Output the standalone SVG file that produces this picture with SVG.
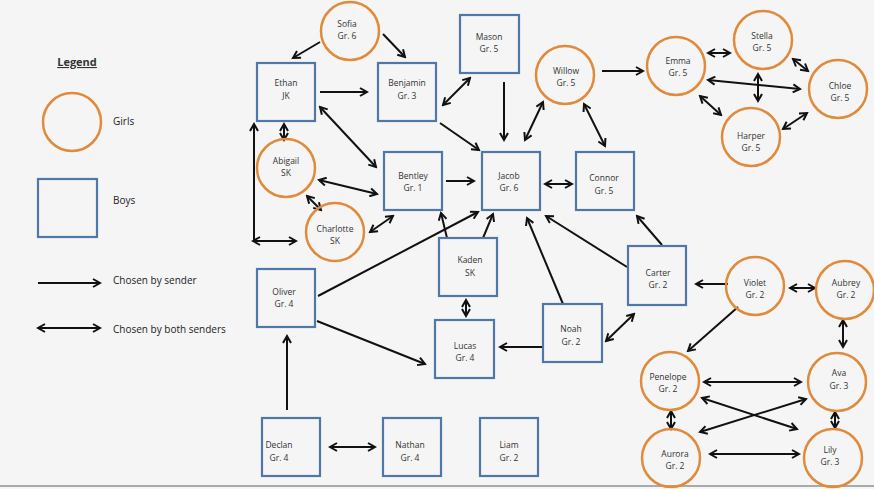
<svg xmlns="http://www.w3.org/2000/svg" width="874" height="489" viewBox="0 0 874 489">
<style>
.b{fill:none;stroke:#4f78a8;stroke-width:2.2}
.g{fill:none;stroke:#e08a3c;stroke-width:2.5}
text{font-family:"Open Sans","Liberation Sans",sans-serif;font-size:8.5px;fill:#333;text-anchor:middle}
.lg{font-size:10px;text-anchor:start;fill:#222}
#edges line,#edges path{stroke:#111;stroke-width:2;fill:none}
.s{marker-end:url(#ah)}
.d{marker-end:url(#ah);marker-start:url(#as)}
</style>
<defs>
<marker id="ah" markerWidth="10" markerHeight="10" refX="8" refY="5" orient="auto" markerUnits="userSpaceOnUse"><path d="M1,1 L8,5 L1,9" fill="none" stroke="#111" stroke-width="2"/></marker>
<marker id="as" markerWidth="10" markerHeight="10" refX="2" refY="5" orient="auto" markerUnits="userSpaceOnUse"><path d="M9,1 L2,5 L9,9" fill="none" stroke="#111" stroke-width="2"/></marker>
</defs>
<rect width="874" height="489" fill="#f5f5f5"/>
<line x1="0" y1="486" x2="874" y2="486" stroke="#aaa" stroke-width="2"/>
<g id="legend">
<text x="77" y="66" style="font-size:11px;font-weight:bold;text-decoration:underline">Legend</text>
<circle cx="72" cy="122" r="29" class="g"/>
<text class="lg" x="113" y="125">Girls</text>
<rect x="38" y="179" width="59" height="58" class="b"/>
<text class="lg" x="113" y="204">Boys</text>
<text class="lg" x="113" y="284">Chosen by sender</text>
<text class="lg" x="113" y="333">Chosen by both senders</text>
</g>
<g id="edges">
<line class="s" x1="38" y1="283" x2="100" y2="283"/>
<line class="d" x1="38" y1="328" x2="100" y2="328"/>
<line class="s" x1="320" y1="42" x2="293" y2="58"/>
<line class="s" x1="383" y1="34" x2="405" y2="57"/>
<line class="s" x1="320" y1="92" x2="367" y2="92"/>
<line class="d" x1="470" y1="78" x2="443" y2="105"/>
<line class="s" x1="440" y1="123" x2="479" y2="150"/>
<line class="s" x1="504" y1="82" x2="504" y2="140"/>
<line class="d" x1="320" y1="107" x2="376" y2="167"/>
<line class="d" x1="284" y1="124" x2="284" y2="140"/>
<line class="d" x1="319" y1="180" x2="377" y2="194"/>
<line class="d" x1="307" y1="196" x2="321" y2="210"/>
<line class="d" x1="370" y1="232" x2="393" y2="216"/>
<line class="s" x1="446" y1="181" x2="474" y2="181"/>
<line class="s" x1="254" y1="241" x2="254" y2="124"/>
<line class="d" x1="253" y1="241" x2="296" y2="241"/>
<line class="s" x1="318" y1="296" x2="478" y2="212"/>
<line class="s" x1="447" y1="238" x2="441" y2="213"/>
<line class="s" x1="483" y1="238" x2="493" y2="214"/>
<line class="d" x1="466" y1="300" x2="466" y2="316"/>
<line class="s" x1="317" y1="321" x2="425" y2="364"/>
<line class="s" x1="544" y1="347" x2="500" y2="347"/>
<line class="s" x1="563" y1="304" x2="527" y2="218"/>
<line class="s" x1="627" y1="267" x2="546" y2="216"/>
<line class="s" x1="662" y1="245" x2="637" y2="216"/>
<line class="d" x1="606" y1="341" x2="634" y2="314"/>
<line class="s" x1="287" y1="410" x2="287" y2="336"/>
<line class="d" x1="330" y1="447" x2="375" y2="447"/>
<line class="d" x1="525" y1="140" x2="543" y2="102"/>
<line class="d" x1="584" y1="104" x2="605" y2="146"/>
<line class="d" x1="545" y1="184" x2="572" y2="184"/>
<line class="s" x1="602" y1="71" x2="643" y2="71"/>
<line class="d" x1="708" y1="53" x2="730" y2="53"/>
<line class="d" x1="708" y1="80" x2="800" y2="89"/>
<line class="d" x1="758" y1="74" x2="758" y2="101"/>
<line class="d" x1="793" y1="59" x2="808" y2="71"/>
<line class="d" x1="700" y1="96" x2="721" y2="115"/>
<line class="d" x1="783" y1="129" x2="807" y2="113"/>
<line class="s" x1="728" y1="284" x2="696" y2="284"/>
<line class="d" x1="790" y1="288" x2="815" y2="288"/>
<line class="d" x1="843" y1="320" x2="843" y2="347"/>
<line class="s" x1="738" y1="307" x2="688" y2="351"/>
<line class="d" x1="704" y1="382" x2="801" y2="382"/>
<line class="d" x1="702" y1="398" x2="797" y2="429"/>
<line class="d" x1="700" y1="432" x2="806" y2="399"/>
<line class="d" x1="671" y1="411" x2="671" y2="429"/>
<line class="d" x1="835" y1="412" x2="835" y2="428"/>
<line class="d" x1="710" y1="454" x2="799" y2="454"/>
</g>
<g id="ethan"><rect x="257" y="63" width="58" height="58" class="b"/><text x="286" y="86">Ethan</text><text x="286" y="99">JK</text></g>
<g id="benjamin"><rect x="378" y="63" width="58" height="58" class="b"/><text x="407" y="86">Benjamin</text><text x="407" y="99">Gr. 3</text></g>
<g id="mason"><rect x="460" y="15" width="59" height="58" class="b"/><text x="489" y="40">Mason</text><text x="489" y="52">Gr. 5</text></g>
<g id="bentley"><rect x="384" y="152" width="58" height="58" class="b"/><text x="413" y="179">Bentley</text><text x="413" y="191">Gr. 1</text></g>
<g id="jacob"><rect x="482" y="152" width="58" height="58" class="b"/><text x="509" y="179">Jacob</text><text x="509" y="191">Gr. 6</text></g>
<g id="connor"><rect x="576" y="152" width="58" height="58" class="b"/><text x="604" y="181">Connor</text><text x="604" y="194">Gr. 5</text></g>
<g id="kaden"><rect x="439" y="238" width="58" height="58" class="b"/><text x="470" y="263">Kaden</text><text x="470" y="276">SK</text></g>
<g id="oliver"><rect x="257" y="269" width="58" height="58" class="b"/><text x="284" y="295">Oliver</text><text x="284" y="307">Gr. 4</text></g>
<g id="lucas"><rect x="435" y="320" width="59" height="58" class="b"/><text x="465" y="349">Lucas</text><text x="465" y="361">Gr. 4</text></g>
<g id="noah"><rect x="543" y="304" width="59" height="58" class="b"/><text x="571" y="332">Noah</text><text x="571" y="345">Gr. 2</text></g>
<g id="carter"><rect x="628" y="246" width="58" height="59" class="b"/><text x="658" y="276">Carter</text><text x="658" y="288">Gr. 2</text></g>
<g id="declan"><rect x="262" y="418" width="58" height="58" class="b"/><text x="279" y="448">Declan</text><text x="279" y="461">Gr. 4</text></g>
<g id="nathan"><rect x="383" y="418" width="58" height="58" class="b"/><text x="410" y="448">Nathan</text><text x="410" y="461">Gr. 4</text></g>
<g id="liam"><rect x="480" y="418" width="58" height="58" class="b"/><text x="509" y="448">Liam</text><text x="509" y="461">Gr. 2</text></g>
<g id="sofia"><circle cx="350" cy="31" r="29" class="g"/><text x="347" y="27">Sofia</text><text x="347" y="39">Gr. 6</text></g>
<g id="abigail"><circle cx="286" cy="168" r="29" class="g"/><text x="286" y="164">Abigail</text><text x="286" y="176">SK</text></g>
<g id="charlotte"><circle cx="335" cy="232" r="29" class="g"/><text x="335" y="232">Charlotte</text><text x="335" y="244">SK</text></g>
<g id="willow"><circle cx="565" cy="75" r="29" class="g"/><text x="566" y="74">Willow</text><text x="566" y="86">Gr. 5</text></g>
<g id="emma"><circle cx="676" cy="66" r="29" class="g"/><text x="678" y="64">Emma</text><text x="678" y="76">Gr. 5</text></g>
<g id="stella"><circle cx="763" cy="40" r="29" class="g"/><text x="762" y="39">Stella</text><text x="762" y="51">Gr. 5</text></g>
<g id="chloe"><circle cx="838" cy="89" r="29" class="g"/><text x="840" y="89">Chloe</text><text x="840" y="101">Gr. 5</text></g>
<g id="harper"><circle cx="751" cy="137" r="29" class="g"/><text x="751" y="139">Harper</text><text x="751" y="151">Gr. 5</text></g>
<g id="violet"><circle cx="755" cy="286" r="29" class="g"/><text x="755" y="286">Violet</text><text x="755" y="298">Gr. 2</text></g>
<g id="aubrey"><circle cx="845" cy="290" r="29" class="g"/><text x="846" y="286">Aubrey</text><text x="846" y="298">Gr. 2</text></g>
<g id="penelope"><circle cx="670" cy="381" r="29" class="g"/><text x="668" y="380">Penelope</text><text x="668" y="392">Gr. 2</text></g>
<g id="ava"><circle cx="837" cy="382" r="29" class="g"/><text x="839" y="376">Ava</text><text x="839" y="389">Gr. 3</text></g>
<g id="aurora"><circle cx="671" cy="458" r="29" class="g"/><text x="675" y="457">Aurora</text><text x="675" y="469">Gr. 2</text></g>
<g id="lily"><circle cx="833" cy="458" r="29" class="g"/><text x="830" y="453">Lily</text><text x="830" y="465">Gr. 3</text></g>
</svg>
